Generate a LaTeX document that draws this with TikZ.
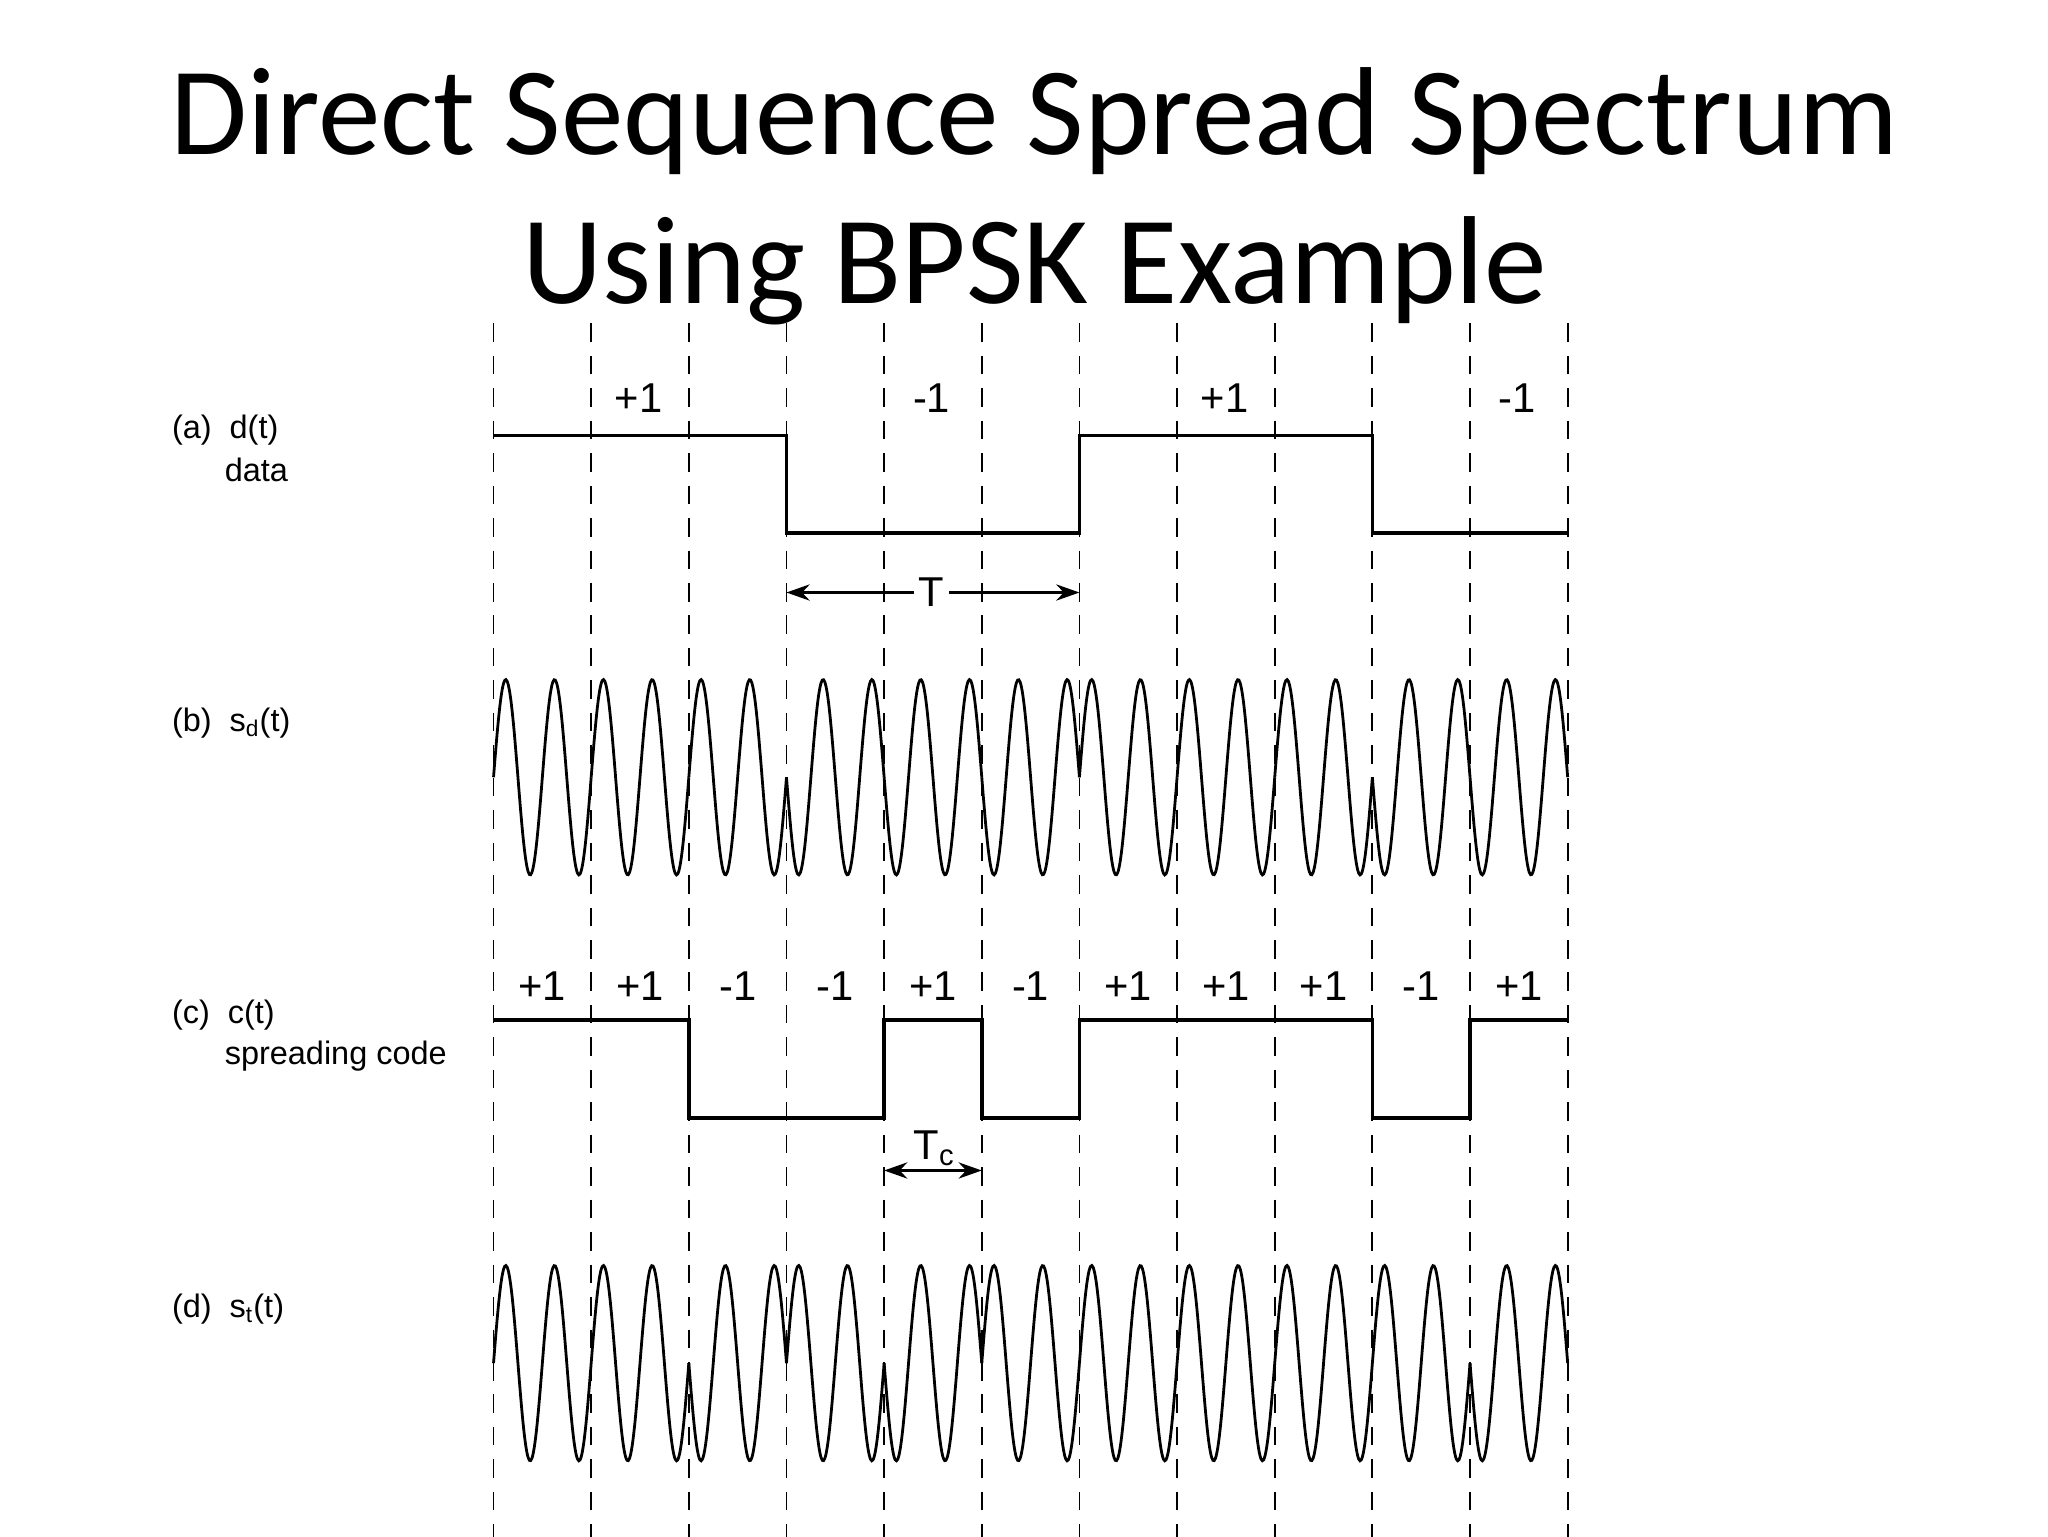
\documentclass[tikz,border=0pt]{standalone}
\usepackage{fontspec}
\usetikzlibrary{arrows.meta}
\setmainfont{Liberation Sans}
\newfontfamily\titlefont{Carlito}
\begin{document}
\begin{tikzpicture}[x=0.02cm,y=-0.02cm,
  lbl/.style={font=\fontsize{14}{16}\selectfont,anchor=west,inner sep=0},
  val/.style={font=\fontsize{18}{20}\selectfont,inner sep=0},
  sig/.style={line width=1.6pt},
  arr/.style={line width=1.2pt,{Stealth[length=10pt,width=7pt]}-{Stealth[length=10pt,width=7pt]}},
  grid/.style={line width=0.8pt,dash pattern=on 8pt off 6pt}]
\useasboundingbox[fill=white] (0,0) rectangle (1552,1164);
\node[font=\titlefont\fontsize{54}{60}\selectfont,inner sep=0] (t1) at (784,92) {Direct Sequence Spread Spectrum};
\node[font=\titlefont\fontsize{54}{60}\selectfont,inner sep=0] (t2) at (784,205) {Using BPSK Example};
\foreach \i in {0,...,11}{\draw[grid] (374+74*\i,245) -- (374+74*\i,1170);}
% labels
\node[lbl] (la) at (130,326) {(a)\ \ d(t)};
\node[lbl] (la2) at (170,356) {data};
\node[lbl] (lb) at (130,548) {(b)\ \ s$_\mathrm{d}$(t)};
\node[lbl] (lc) at (130,769) {(c)\ \ c(t)};
\node[lbl] (lc2) at (170,800) {spreading code};
\node[lbl] (ld) at (130,992) {(d)\ \ s$_\mathrm{t}$(t)};
% data
\draw[sig] (374,330) -- (596,330) -- (596,404) -- (818,404) -- (818,330) -- (1040,330) -- (1040,404) -- (1188,404);
\foreach \x/\t in {484/+1,706/-1,928/+1,1150/-1}{\node[val] at (\x,302) {\t};}
% T arrow
\coordinate (Ta) at (596,449); \coordinate (Tb) at (818,449);
\draw[arr] (Ta) -- (Tb);
\node[val,fill=white,inner sep=2pt] (T) at (706,449) {T};
% code
\draw[sig] (374,773) -- (522,773) -- (522,847) -- (670,847) -- (670,773) -- (744,773) -- (744,847) -- (818,847) -- (818,773) -- (1040,773) -- (1040,847) -- (1114,847) -- (1114,773) -- (1188,773);
\foreach \t [count=\k from 0] in {+1,+1,-1,-1,+1,-1,+1,+1,+1,-1,+1}{\node[val] at (411+74*\k,747) {\t};}
\coordinate (Ca) at (670,887); \coordinate (Cb) at (744,887);
\draw[arr] (Ca) -- (Cb);
\node[val] (Tc) at (708,870) {T$_\mathrm{c}$};
% sd(t)
\foreach \s [count=\k from 0] in {1,1,1,-1,-1,-1,1,1,1,-1,-1}{
  \draw[line width=1.2pt] plot[domain=0:74,samples=80,smooth] ({374+74*\k+\x},{589-74*\s*sin(\x/37*360)});}
% st(t)
\foreach \s [count=\k from 0] in {1,1,-1,1,-1,1,1,1,1,1,-1}{
  \draw[line width=1.2pt] plot[domain=0:74,samples=80,smooth] ({374+74*\k+\x},{1033-74*\s*sin(\x/37*360)});}
\end{tikzpicture}
\end{document}
